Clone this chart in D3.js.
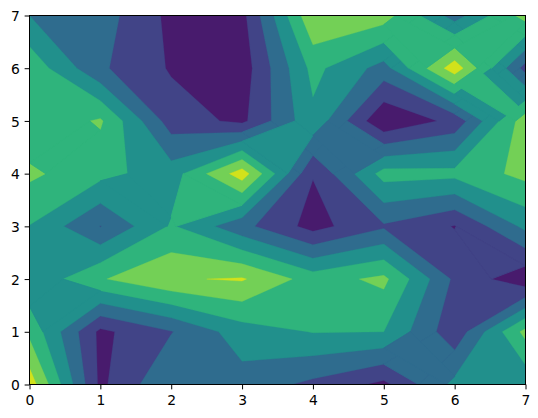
<!DOCTYPE html>
<html><head><meta charset="utf-8">
<script src="https://cdn.jsdelivr.net/npm/d3@7/dist/d3.min.js"></script>
<style>html,body{margin:0;padding:0;background:#fff}svg{display:block}</style></head>
<body><svg id="c" width="538" height="418"></svg>
<script>
// Sampled field, one row per y = 0..7 (bottom to top), x = 0..7 left to right
const row0 = [6.57,0.77,2.97,2.59,1.75,0.75,3.30,3.22];
const row1 = [4.75,0.76,1.95,3.52,4.04,4.00,1.30,5.32];
const row2 = [3.18,4.91,5.90,6.10,4.55,5.24,1.80,0.25];
const row3 = [3.97,1.97,4.12,2.30,0.63,1.87,0.95,3.25];
const row4 = [5.20,4.32,3.48,6.55,1.05,4.40,4.30,5.30];
const row5 = [4.20,5.14,1.50,0.77,3.75,0.10,1.30,5.60];
const row6 = [4.70,2.16,0.90,0.45,4.30,2.60,6.60,1.60];
const row7 = [3.00,2.47,0.74,0.69,5.88,5.50,2.50,5.50];
const levels = [0,1,2,3,4,5,6];
const bandColors = ["#481b6d","#414487","#2f6c8e","#21908c","#2fb47c","#73d056","#d2e21b"];
const ticks = [0,1,2,3,4,5,6,7];

const rows = [row0,row1,row2,row3,row4,row5,row6,row7];
const values = rows.flat();
const L=29.5,R=525.5,T=15.5,B=384.5;
const x=d3.scaleLinear().domain([0,7]).range([L,R]);
const y=d3.scaleLinear().domain([0,7]).range([B,T]);
const svg=d3.select("#c");
svg.append("defs").append("clipPath").attr("id","plot").append("rect")
  .attr("x",L).attr("y",T).attr("width",R-L).attr("height",B-T);
const g=svg.append("g").attr("clip-path","url(#plot)");
g.append("rect").attr("x",L).attr("y",T).attr("width",R-L).attr("height",B-T).attr("fill",bandColors[0]);
const contours=d3.contours().size([8,8]).smooth(true);
const tf=d3.geoTransform({point(px,py){this.stream.point(x(px-0.5),y(py-0.5));}});
const path=d3.geoPath(tf);
const line=d3.line().x(p=>x(p[0])).y(p=>y(p[1]));
levels.slice(1).forEach(t=>{
  const c=bandColors[t];
  g.append("path").datum(contours.contour(values,t)).attr("d",path)
    .attr("fill",c).attr("stroke",c).attr("stroke-width",0.3);
  // ambiguous cells: decide by the mean of the four corners, joining the edge crossings
  for(let j=0;j<7;j++)for(let i=0;i<7;i++){
    const a=rows[j][i],b=rows[j][i+1],e=rows[j+1][i+1],d=rows[j+1][i];
    if(((a>=t)===(e>=t))&&((b>=t)===(d>=t))&&((a>=t)!==(b>=t))){
      const m=(a+b+e+d)/4, col=m>=t?c:bandColors[t-1];
      const pts=[[i+(t-a)/(b-a),j],[i+1,j+(t-b)/(e-b)],[i+(t-d)/(e-d),j+1],[i,j+(t-a)/(d-a)]];
      g.append("path").attr("d",line(pts)+"Z").attr("fill",col).attr("stroke",col).attr("stroke-width",0.9);
    }
  }
});
const font="'DejaVu Sans'";
function style(a){
  a.selectAll("text").attr("font-family",font).attr("font-size","13.89px").attr("fill","#000");
  a.selectAll("line").attr("stroke","#000").attr("stroke-width",1);
  a.select(".domain").remove();
}
svg.append("g").attr("transform",`translate(0,${B})`)
  .call(d3.axisBottom(x).tickValues(ticks).tickFormat(d3.format("d")).tickSize(4.86).tickPadding(5.8)).call(style);
svg.append("g").attr("transform",`translate(${L},0)`)
  .call(d3.axisLeft(y).tickValues(ticks).tickFormat(d3.format("d")).tickSize(4.86).tickPadding(4.86)).call(style)
  .selectAll("text").attr("dy","0.37em");
svg.append("rect").attr("x",L).attr("y",T).attr("width",R-L).attr("height",B-T)
  .attr("fill","none").attr("stroke","#000").attr("stroke-width",1);
</script></body></html>
